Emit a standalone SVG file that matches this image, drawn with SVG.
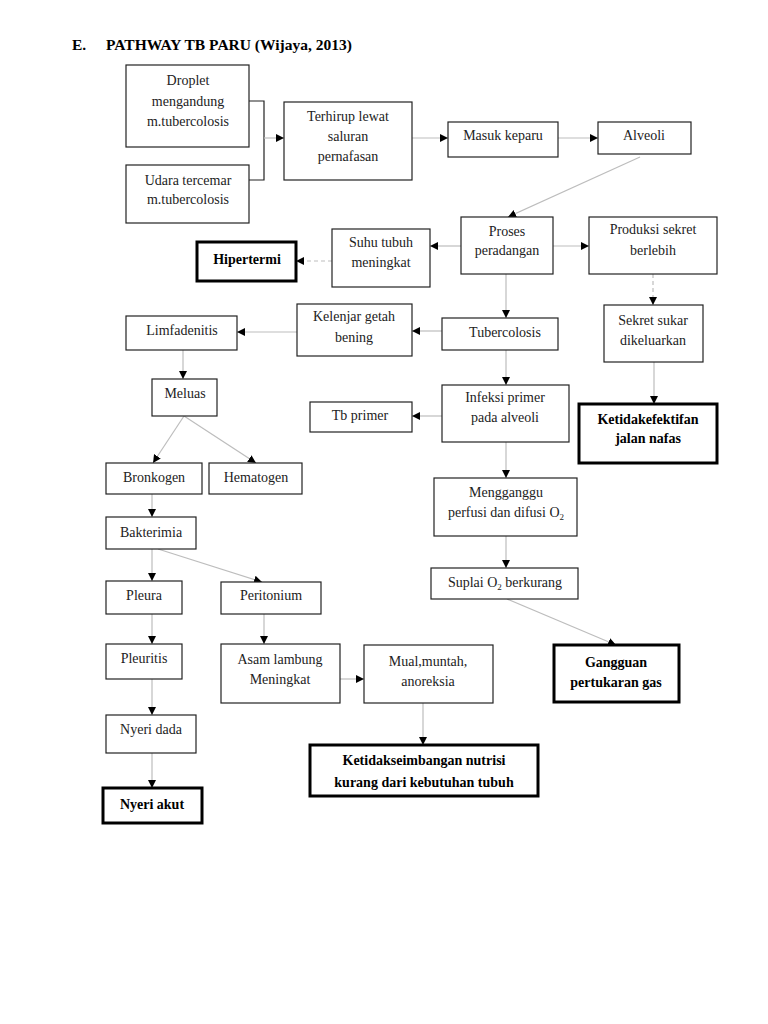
<svg xmlns="http://www.w3.org/2000/svg" width="768" height="1024" viewBox="0 0 768 1024">
<defs>
<marker id="ah" markerUnits="userSpaceOnUse" markerWidth="9" markerHeight="9" refX="8" refY="4" orient="auto">
<path d="M0,0 L8,4 L0,8 Z" fill="#000"/>
</marker>
<style>
.b{fill:#fff;stroke:#222;stroke-width:1.2}
.k{fill:#fff;stroke:#000;stroke-width:3}
.t{font-family:"Liberation Serif","Times New Roman",serif;font-size:14px;fill:#222;text-anchor:middle}
.tb{font-family:"Liberation Serif","Times New Roman",serif;font-size:14px;font-weight:bold;fill:#000;text-anchor:middle}
.h{font-family:"Liberation Serif","Times New Roman",serif;font-size:15.5px;font-weight:bold;fill:#000}
.c{fill:none;stroke:#bdbdbd;stroke-width:1.2}
.a{marker-end:url(#ah)}
.d{stroke-dasharray:4,3}
.s{font-size:9px}
</style>
</defs>
<rect width="768" height="1024" fill="#fff"/>
<g id="title">
<text class="h" x="72" y="50">E.</text>
<text class="h" x="106" y="50">PATHWAY TB PARU (Wijaya, 2013)</text>
</g>

<g id="connectors">
<polyline points="249,101 264,101 264,180 249,180" fill="none" stroke="#222" stroke-width="1.2"/>
<line class="c a" x1="264" y1="138" x2="284" y2="138"/>
<line class="c a" x1="412" y1="138" x2="448" y2="138"/>
<line class="c a" x1="558" y1="138" x2="598" y2="138"/>
<line class="c a" x1="640" y1="157" x2="508" y2="217"/>
<line class="c a" x1="553" y1="246" x2="589" y2="246"/>
<line class="c a" x1="461" y1="246" x2="430" y2="246"/>
<line class="c a d" x1="332" y1="261" x2="296" y2="261"/>
<line class="c a d" x1="653" y1="274" x2="653" y2="305"/>
<line class="c a" x1="506" y1="274" x2="506" y2="318"/>
<line class="c a" x1="442" y1="331" x2="412" y2="331"/>
<line class="c a" x1="297" y1="332" x2="237" y2="332"/>
<line class="c a" x1="506" y1="350" x2="506" y2="385"/>
<line class="c a" x1="654" y1="362" x2="654" y2="404"/>
<line class="c a" x1="442" y1="416" x2="412" y2="416"/>
<line class="c a" x1="506" y1="442" x2="506" y2="478"/>
<line class="c a" x1="506" y1="536" x2="506" y2="568"/>
<line class="c a" x1="507" y1="599" x2="616" y2="645"/>
<line class="c a" x1="183" y1="350" x2="183" y2="379"/>
<line class="c a" x1="184" y1="416" x2="153" y2="463"/>
<line class="c a" x1="184" y1="416" x2="256" y2="463"/>
<line class="c a" x1="152" y1="494" x2="152" y2="517"/>
<line class="c a" x1="152" y1="549" x2="152" y2="581"/>
<line class="c a" x1="158" y1="549" x2="262" y2="582"/>
<line class="c a" x1="152" y1="614" x2="152" y2="644"/>
<line class="c a" x1="152" y1="679" x2="152" y2="715"/>
<line class="c a" x1="152" y1="753" x2="152" y2="788"/>
<line class="c a" x1="264" y1="614" x2="264" y2="644"/>
<line class="c a" x1="340" y1="679" x2="364" y2="679"/>
<line class="c a" x1="423" y1="703" x2="423" y2="745"/>
</g>

<g id="droplet"><rect class="b" x="126" y="65" width="123" height="82"/>
<text class="t" x="188" y="85">Droplet</text><text class="t" x="188" y="106">mengandung</text><text class="t" x="188" y="126">m.tubercolosis</text></g>
<g id="udara"><rect class="b" x="126" y="165" width="123" height="58"/>
<text class="t" x="188" y="185">Udara tercemar</text><text class="t" x="188" y="204">m.tubercolosis</text></g>
<g id="terhirup"><rect class="b" x="284" y="102" width="128" height="78"/>
<text class="t" x="348" y="121">Terhirup lewat</text><text class="t" x="348" y="141">saluran</text><text class="t" x="348" y="161">pernafasan</text></g>
<g id="masuk"><rect class="b" x="448" y="122" width="110" height="35"/>
<text class="t" x="503" y="140">Masuk keparu</text></g>
<g id="alveoli"><rect class="b" x="598" y="122" width="93" height="32"/>
<text class="t" x="644" y="140">Alveoli</text></g>
<g id="proses"><rect class="b" x="461" y="217" width="92" height="57"/>
<text class="t" x="507" y="236">Proses</text><text class="t" x="507" y="255">peradangan</text></g>
<g id="produksi"><rect class="b" x="589" y="217" width="128" height="57"/>
<text class="t" x="653" y="234">Produksi sekret</text><text class="t" x="653" y="255">berlebih</text></g>
<g id="suhu"><rect class="b" x="332" y="229" width="98" height="58"/>
<text class="t" x="381" y="247">Suhu tubuh</text><text class="t" x="381" y="267">meningkat</text></g>
<g id="hipertermi"><rect class="k" x="197" y="242" width="99" height="39"/>
<text class="tb" x="247" y="264">Hipertermi</text></g>
<g id="kelenjar"><rect class="b" x="297" y="304" width="115" height="52"/>
<text class="t" x="354" y="321">Kelenjar getah</text><text class="t" x="354" y="342">bening</text></g>
<g id="limfadenitis"><rect class="b" x="126" y="316" width="111" height="34"/>
<text class="t" x="182" y="335">Limfadenitis</text></g>
<g id="tubercolosis"><rect class="b" x="442" y="318" width="116" height="32"/>
<text class="t" x="505" y="337">Tubercolosis</text></g>
<g id="sekret"><rect class="b" x="604" y="305" width="99" height="57"/>
<text class="t" x="653" y="325">Sekret sukar</text><text class="t" x="653" y="345">dikeluarkan</text></g>
<g id="infeksi"><rect class="b" x="442" y="385" width="127" height="57"/>
<text class="t" x="505" y="402">Infeksi primer</text><text class="t" x="505" y="422">pada alveoli</text></g>
<g id="tbprimer"><rect class="b" x="310" y="402" width="102" height="30"/>
<text class="t" x="360" y="420">Tb primer</text></g>
<g id="ketidakefektifan"><rect class="k" x="579" y="404" width="138" height="59"/>
<text class="tb" x="648" y="424">Ketidakefektifan</text><text class="tb" x="648" y="443">jalan nafas</text></g>
<g id="meluas"><rect class="b" x="152" y="379" width="65" height="37"/>
<text class="t" x="185" y="398">Meluas</text></g>
<g id="bronkogen"><rect class="b" x="106" y="463" width="96" height="31"/>
<text class="t" x="154" y="482">Bronkogen</text></g>
<g id="hematogen"><rect class="b" x="209" y="463" width="93" height="31"/>
<text class="t" x="256" y="482">Hematogen</text></g>
<g id="bakterimia"><rect class="b" x="106" y="517" width="90" height="32"/>
<text class="t" x="151" y="537">Bakterimia</text></g>
<g id="mengganggu"><rect class="b" x="434" y="478" width="143" height="58"/>
<text class="t" x="506" y="497">Mengganggu</text><text class="t" x="506" y="517">perfusi dan difusi O<tspan class="s" dy="3">2</tspan></text></g>
<g id="suplai"><rect class="b" x="431" y="568" width="147" height="31"/>
<text class="t" x="505" y="587">Suplai O<tspan class="s" dy="3">2</tspan><tspan dy="-3"> berkurang</tspan></text></g>
<g id="gangguan"><rect class="k" x="554" y="645" width="125" height="57"/>
<text class="tb" x="616" y="667">Gangguan</text><text class="tb" x="616" y="687">pertukaran gas</text></g>
<g id="pleura"><rect class="b" x="106" y="581" width="76" height="33"/>
<text class="t" x="144" y="600">Pleura</text></g>
<g id="peritonium"><rect class="b" x="221" y="582" width="100" height="32"/>
<text class="t" x="271" y="600">Peritonium</text></g>
<g id="pleuritis"><rect class="b" x="106" y="644" width="76" height="35"/>
<text class="t" x="144" y="663">Pleuritis</text></g>
<g id="asam"><rect class="b" x="221" y="644" width="119" height="59"/>
<text class="t" x="280" y="664">Asam lambung</text><text class="t" x="280" y="684">Meningkat</text></g>
<g id="mual"><rect class="b" x="364" y="645" width="129" height="58"/>
<text class="t" x="428" y="666">Mual,muntah,</text><text class="t" x="428" y="686">anoreksia</text></g>
<g id="nyeridada"><rect class="b" x="106" y="715" width="90" height="38"/>
<text class="t" x="151" y="734">Nyeri dada</text></g>
<g id="nyeriakut"><rect class="k" x="103" y="788" width="99" height="35"/>
<text class="tb" x="152" y="809">Nyeri akut</text></g>
<g id="ketidakseimbangan"><rect class="k" x="310" y="745" width="228" height="51"/>
<text class="tb" x="424" y="765">Ketidakseimbangan nutrisi</text><text class="tb" x="424" y="787">kurang dari kebutuhan tubuh</text></g>
</svg>
